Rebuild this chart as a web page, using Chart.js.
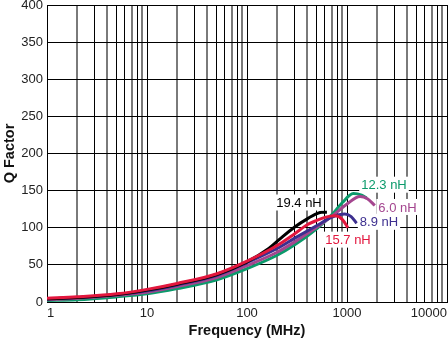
<!DOCTYPE html>
<html>
<head>
<meta charset="utf-8">
<script src="https://cdn.jsdelivr.net/npm/chart.js@4/dist/chart.umd.min.js"></script>
<style>
  html, body { margin: 0; padding: 0; background: #fff; }
  #wrap { width: 448px; height: 342px; }
</style>
</head>
<body>
<div id="wrap"><canvas id="q-chart" width="448" height="342"></canvas></div>
<script>
// series, top-most first (Chart.js draws index 0 last)
var seriesNames  = ["15.7 nH", "19.4 nH", "8.9 nH", "6.0 nH", "12.3 nH"];
var seriesColors = ["#e2173e", "#000000", "#3d2f8f", "#a4468f", "#0b9a6b"];

var freq157 = [1, 2, 5, 10, 20, 50, 100, 200, 300, 400, 500, 600, 760, 900, 1020];
var q157    = [5, 7, 11, 17, 25, 38, 55, 76, 92, 104, 110, 114, 116, 111, 100];

var freq194 = [1, 2, 5, 10, 20, 50, 100, 165, 214, 300, 400, 500, 560, 630];
var q194    = [4, 6, 10, 16, 24, 37, 54, 72, 85, 101, 112, 119, 121, 121];

var freq89 = [1, 2, 5, 10, 20, 50, 100, 200, 300, 500, 700, 950, 1100, 1250];
var q89    = [4, 6, 10, 15, 23, 36, 53, 72, 86, 103, 114, 118.5, 115, 106];

var freq60 = [1, 2, 5, 10, 20, 50, 100, 200, 300, 500, 700, 1000, 1350, 1600, 1900];
var q60    = [3, 5, 9, 13, 21, 33, 49, 67, 81, 101, 115, 132, 142, 139, 130];

var freq123 = [1, 2, 5, 10, 20, 50, 100, 200, 300, 500, 700, 900, 1157, 1400, 1570];
var q123    = [2, 3, 7, 11, 18, 30, 45, 63, 77, 99, 117, 134, 146, 144, 140];

var seriesFreq = [freq157, freq194, freq89, freq60, freq123];
var seriesQ    = [q157, q194, q89, q60, q123];

// where each curve's name sits (MHz, Q)
var labelFreq = [1023, 331, 2089, 3199, 2344];
var labelQ    = [84, 134, 108, 128, 158];

var xTickLabels = ["1", "10", "100", "1000", "10000"];
var yTicks = [0, 50, 100, 150, 200, 250, 300, 350, 400];

// grid: 1..9 in every decade
var gridValues = [];
[1, 10, 100, 1000].forEach(function (d) {
  for (var m = 1; m < 10; m++) gridValues.push(d * m);
});
gridValues.push(10000);
var grayMult = [2, 4, 7, 9];

function multOf(v) {
  var d = Math.pow(10, Math.floor(Math.log10(v) + 1e-9));
  return Math.round(v / d);
}

var datasets = seriesNames.map(function (name, i) {
  return {
    label: name,
    data: seriesFreq[i].map(function (f, j) { return { x: f, y: seriesQ[i][j] }; }),
    borderColor: seriesColors[i],
    borderWidth: 3,
    pointRadius: 0,
    fill: false,
    cubicInterpolationMode: "monotone"
  };
});

var curveLabels = {
  id: "curveLabels",
  afterDatasetsDraw: function (chart) {
    var ctx = chart.ctx, xs = chart.scales.x, ys = chart.scales.y;
    ctx.save();
    ctx.font = '13px "Liberation Sans", Arial, sans-serif';
    ctx.textAlign = "center";
    ctx.textBaseline = "middle";
    seriesNames.forEach(function (name, i) {
      var px = xs.getPixelForValue(labelFreq[i]);
      var py = ys.getPixelForValue(labelQ[i]);
      var w = ctx.measureText(name).width + 4;
      ctx.fillStyle = "#fff";
      ctx.fillRect(px - w / 2, py - 8, w, 16);
      ctx.fillStyle = seriesColors[i];
      ctx.fillText(name, px, py + 1);
    });
    ctx.restore();
  }
};

new Chart(document.getElementById("q-chart"), {
  type: "line",
  data: { datasets: datasets },
  plugins: [curveLabels],
  options: {
    responsive: false,
    devicePixelRatio: 1,
    animation: false,
    layout: { padding: { top: 5, right: 1, left: 0, bottom: 0 } },
    plugins: { legend: { display: false }, tooltip: { enabled: false } },
    scales: {
      x: {
        type: "logarithmic",
        min: 1,
        max: 10000,
        afterBuildTicks: function (s) {
          s.ticks = gridValues.map(function (v) { return { value: v }; });
        },
        afterFit: function (s) {
          s.height = 40;
          s.paddingLeft = 0;
          s.paddingRight = 0;
        },
        grid: {
          drawTicks: false,
          color: function (c) {
            return grayMult.indexOf(multOf(c.tick.value)) >= 0 ? "#7a7a7a" : "#000";
          },
          lineWidth: function (c) {
            return grayMult.indexOf(multOf(c.tick.value)) >= 0 ? 2 : 1;
          }
        },
        border: { color: "#000", width: 1 },
        ticks: {
          autoSkip: false,
          maxRotation: 0,
          align: "inner",
          padding: 4,
          color: "#222",
          font: { family: '"Liberation Sans", Arial, sans-serif', size: 13 },
          callback: function (v) {
            var i = Math.log10(v);
            return Math.abs(i - Math.round(i)) < 1e-9 ? xTickLabels[Math.round(i)] : "";
          }
        },
        title: {
          display: true,
          text: "Frequency (MHz)",
          color: "#111",
          padding: { top: 0, bottom: 2 },
          font: { family: '"Liberation Sans", Arial, sans-serif', size: 14.5, weight: "bold" }
        }
      },
      y: {
        min: 0,
        max: 400,
        afterBuildTicks: function (s) {
          s.ticks = yTicks.map(function (v) { return { value: v }; });
        },
        afterFit: function (s) {
          s.width = 47;
          s.paddingTop = 0;
          s.paddingBottom = 0;
        },
        grid: { drawTicks: false, color: "#000", lineWidth: 1 },
        border: { color: "#000", width: 1 },
        ticks: {
          padding: 4,
          color: "#222",
          font: { family: '"Liberation Sans", Arial, sans-serif', size: 13 }
        },
        title: {
          display: true,
          text: "Q Factor",
          color: "#111",
          padding: { top: 1, bottom: 0 },
          font: { family: '"Liberation Sans", Arial, sans-serif', size: 14.5, weight: "bold" }
        }
      }
    }
  }
});
</script>
</body>
</html>
